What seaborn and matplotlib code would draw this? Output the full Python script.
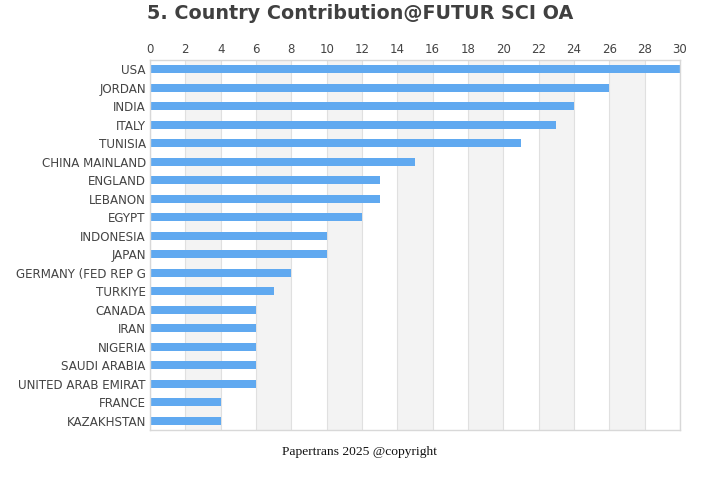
import matplotlib
matplotlib.use("Agg")
import matplotlib.pyplot as plt
import seaborn as sns
import pandas as pd

countries = ["USA", "JORDAN", "INDIA", "ITALY", "TUNISIA", "CHINA MAINLAND", "ENGLAND",
             "LEBANON", "EGYPT", "INDONESIA", "JAPAN", "GERMANY (FED REP G", "TURKIYE",
             "CANADA", "IRAN", "NIGERIA", "SAUDI ARABIA", "UNITED ARAB EMIRAT", "FRANCE",
             "KAZAKHSTAN"]
counts = [30, 26, 24, 23, 21, 15, 13, 13, 12, 10, 10, 8, 7, 6, 6, 6, 6, 6, 4, 4]
xticks = list(range(0, 31, 2))

sns.set_theme(style="white")
plt.rcParams['font.family'] = ['DejaVu Sans']

df = pd.DataFrame({"country": countries, "count": counts})

fig = plt.figure(figsize=(7.2, 4.8), dpi=100)
ax = fig.add_axes([0.2083, 0.1042, 0.7361, 0.7708])

for i in range(1, len(xticks) - 1, 2):
    ax.axvspan(xticks[i], xticks[i + 1], color="#f3f3f3", zorder=0, lw=0)
for t in xticks:
    ax.axvline(t, color="#e0e0e0", lw=0.8, zorder=0.5)

sns.barplot(data=df, x="count", y="country", orient="h", color="#60a9f0",
            saturation=1, width=0.45, ax=ax, zorder=2, edgecolor="none", linewidth=0)

ax.set_xlim(0, 30)
ax.set_xticks(xticks)
ax.xaxis.tick_top()
ax.xaxis.set_label_position("top")
ax.set_xlabel("")
ax.set_ylabel("")
ax.tick_params(axis="x", labelsize=8.5, colors="#444444", length=0, pad=3)
ax.tick_params(axis="y", labelsize=8.6, colors="#444444", length=0, pad=3)
for s in ax.spines.values():
    s.set_color("#d8d8d8")
    s.set_linewidth(1)

fig.text(0.5, 0.972, "5. Country Contribution@FUTUR SCI OA", ha="center", va="center",
         fontsize=13.8, fontweight="bold", color="#404040")
fig.text(0.5, 0.058, "Papertrans 2025 @copyright", ha="center", va="center",
         fontsize=9.7, family="Liberation Serif", color="#111111")

fig.savefig("out.png", dpi=100)
